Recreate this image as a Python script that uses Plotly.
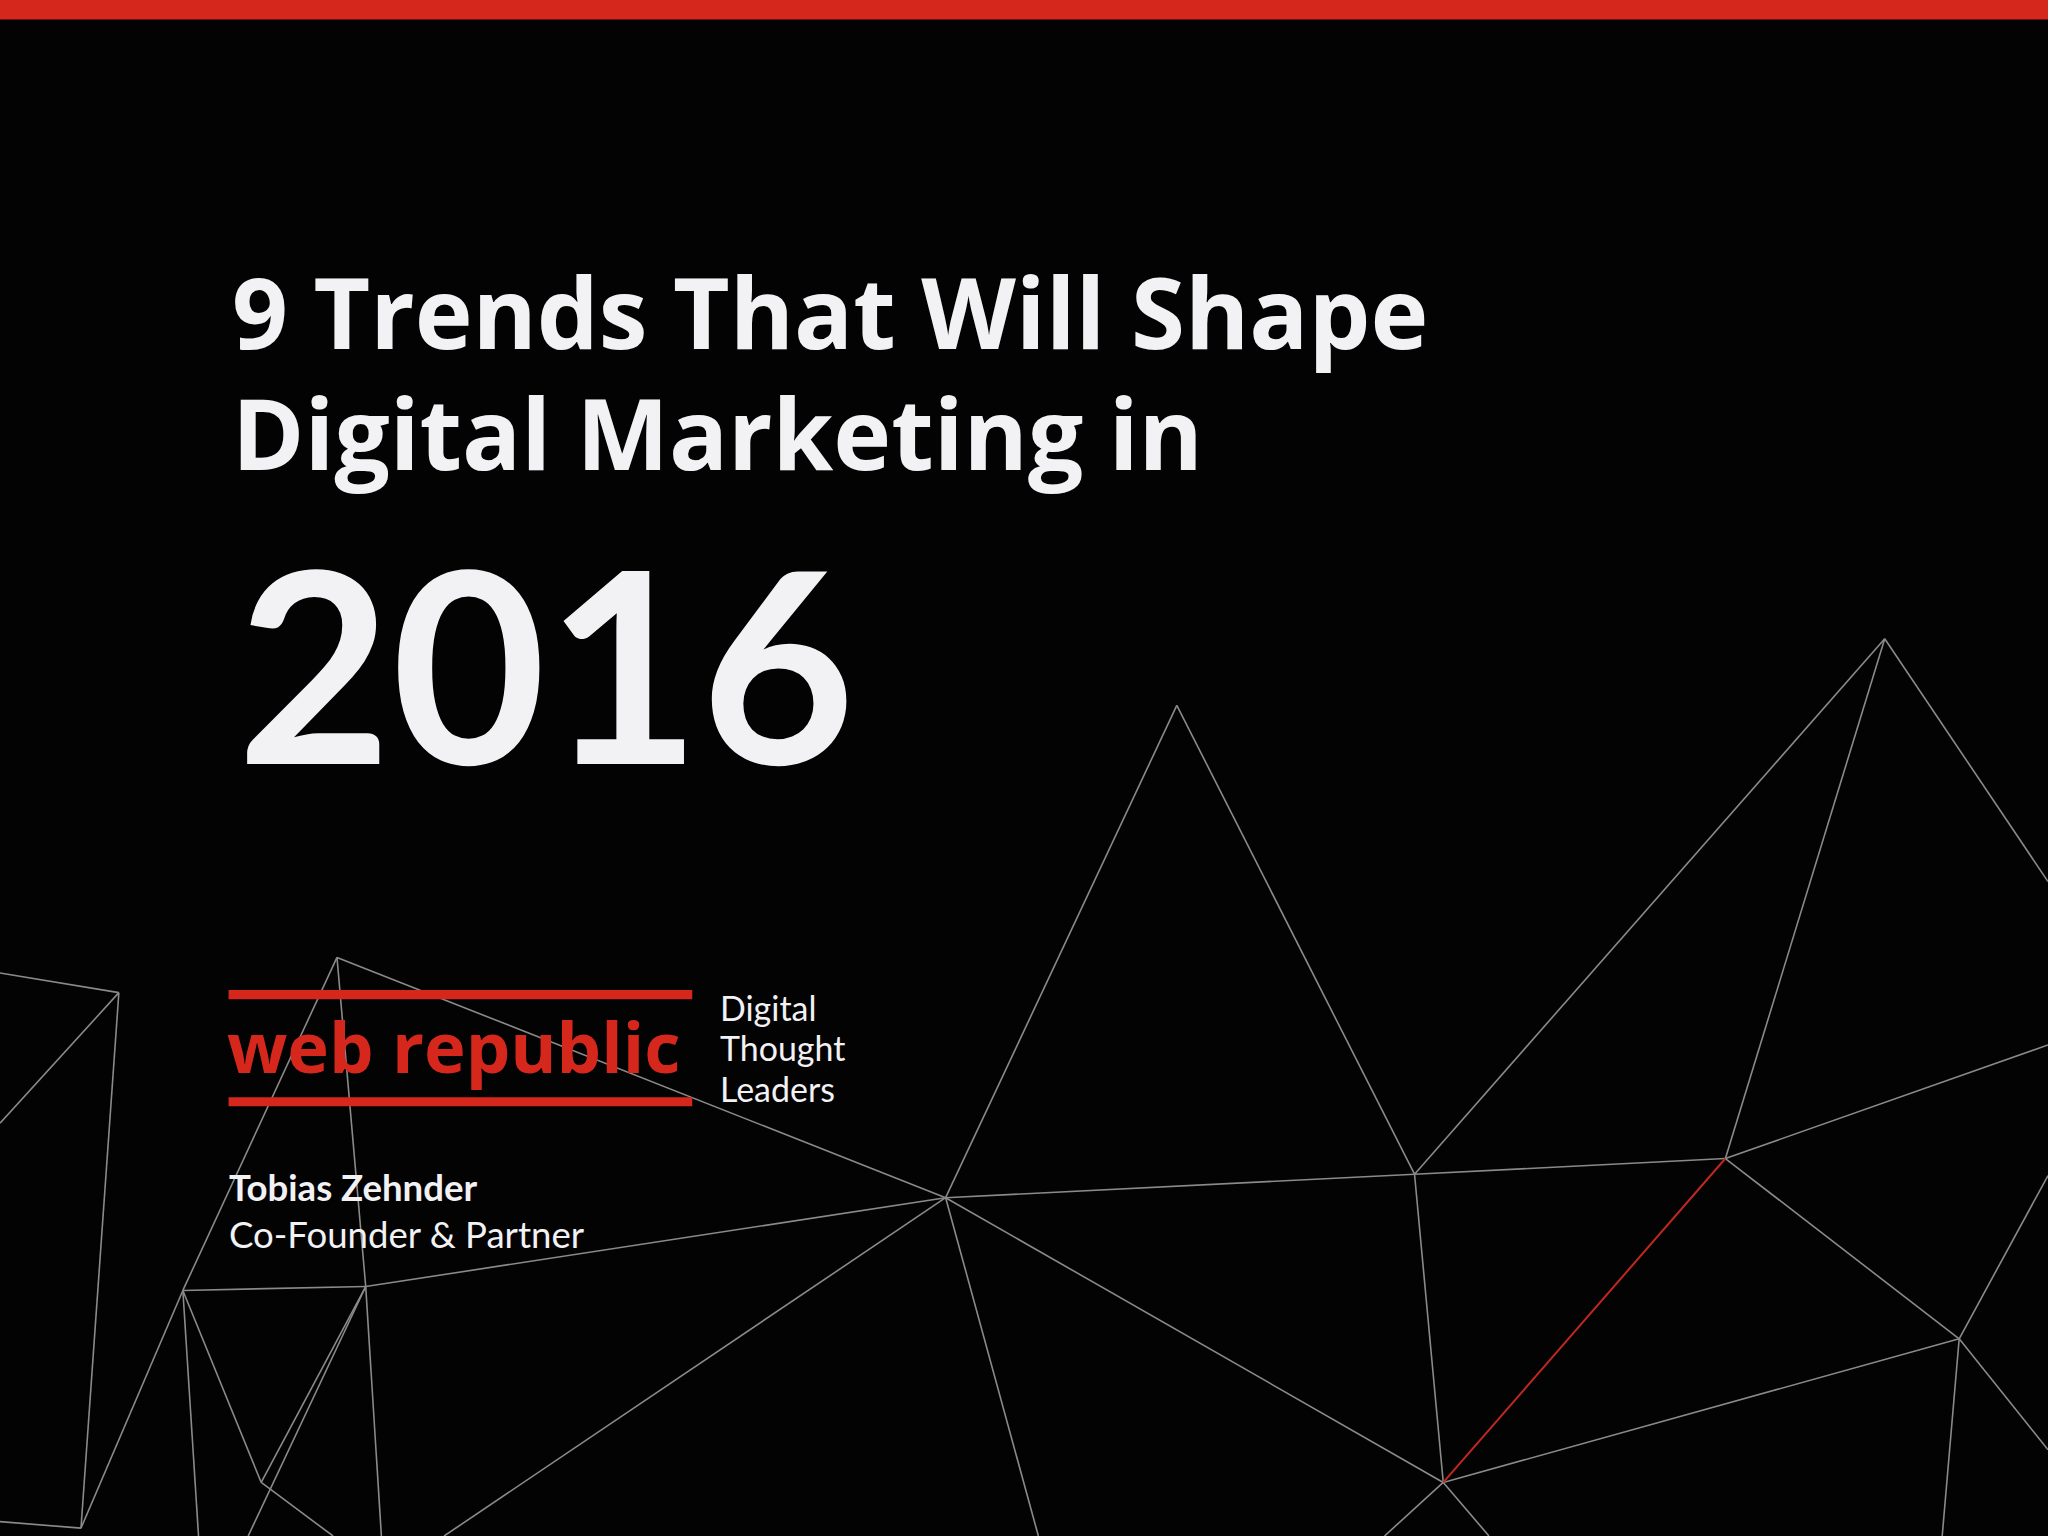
import plotly.graph_objects as go

S = 2048/1568
W, H = 1568, 1176

# mesh vertices (poster coordinates)
nodes = {
 "a":(0,745),"b":(91,760),"c":(0,860),"d":(62,1170),"e":(0,1165),
 "C":(258,733),"D":(140,988),"E":(280,985),"F":(200,1135),
 "G":(724,917),"Hp":(901,540),"I":(1083,899),"J":(1443,489),"K":(1321,887),
 "L":(1500,1025),"M":(1105,1135),
 "b1":(152,1176),"b2":(190,1176),"b3":(292,1176),"b4":(255,1176),"b5":(340,1176),
 "b6":(795,1176),"b7":(1060,1176),"b8":(1140,1176),"b9":(1487,1176),
 "r1":(1568,800),"r2":(1568,675),"r3":(1568,900),"r4":(1568,1110),
}
edges = [("a","b"),("b","c"),("b","d"),("e","d"),("C","D"),("C","G"),("C","E"),
 ("D","E"),("D","d"),("D","F"),("D","b1"),("E","F"),("E","b2"),("E","b3"),("F","b4"),
 ("E","G"),("G","Hp"),("G","I"),("G","b5"),("G","b6"),("G","M"),("Hp","I"),
 ("I","J"),("I","M"),("I","K"),("K","J"),("K","r1"),("K","L"),("J","r2"),
 ("L","r3"),("L","M"),("L","r4"),("L","b9"),("M","b7"),("M","b8")]
red_edges = [("K","M")]

fig = go.Figure()
xs, ys = [], []
for p, q in edges:
    xs += [nodes[p][0], nodes[q][0], None]; ys += [nodes[p][1], nodes[q][1], None]
fig.add_trace(go.Scatter(x=xs, y=ys, mode="lines", line=dict(color="#8a8a8a", width=1.6), hoverinfo="skip"))
xs, ys = [], []
for p, q in red_edges:
    xs += [nodes[p][0], nodes[q][0], None]; ys += [nodes[p][1], nodes[q][1], None]
fig.add_trace(go.Scatter(x=xs, y=ys, mode="lines", line=dict(color="#c0281f", width=2), hoverinfo="skip"))

shapes = [dict(type="rect", x0=0, x1=W, y0=0, y1=15, fillcolor="#d6271c", line_width=0),
          dict(type="rect", x0=175, x1=530, y0=758, y1=765, fillcolor="#d6271c", line_width=0),
          dict(type="rect", x0=175, x1=530, y0=840, y1=847, fillcolor="#d6271c", line_width=0)]

white = "#f2f1f4"
def ann(x, y, text, size, color=white, family="Open Sans", xanchor="left", yanchor="middle"):
    fig.add_annotation(x=x, y=y, xref="x", yref="y", text=text, showarrow=False,
        xanchor=xanchor, yanchor=yanchor, font=dict(size=size*S, color=color, family=family))

ann(176, 238, "<b>9 Trends That Will Shape</b>", 75)
ann(176, 331, "<b>Digital Marketing in</b>", 75)
ann(180, 506, "<b>2016</b>", 204, family="Lato")
ann(172, 801, "<b>web republic</b>", 54, color="#d6271c", family="Open Sans")
ann(550, 771, "Digital", 26, family="Lato")
ann(550, 802, "Thought", 26, family="Lato")
ann(550, 833, "Leaders", 26, family="Lato")
ann(174, 909, "<b>Tobias Zehnder</b>", 28, family="Lato")
ann(174, 945, "Co-Founder &amp; Partner", 28, family="Lato")

fig.update_layout(width=2048, height=1536, margin=dict(l=0, r=0, t=0, b=0),
    paper_bgcolor="#030304", plot_bgcolor="#030304", showlegend=False, shapes=shapes,
    xaxis=dict(range=[0, W], visible=False, fixedrange=True),
    yaxis=dict(range=[H, 0], visible=False, fixedrange=True))
fig.write_html("out.html", config={"displayModeBar": False},
    post_script="document.body.style.margin='0';document.body.style.background='#030304';document.body.style.overflow='hidden';")
